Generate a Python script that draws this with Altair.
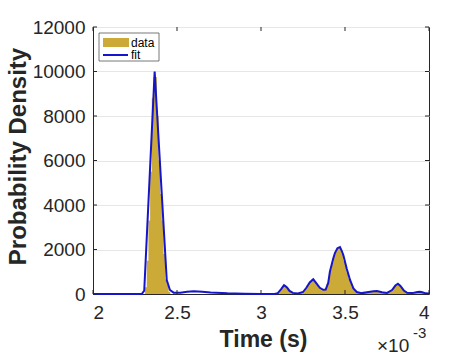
import altair as alt
import pandas as pd

# ---------------- data (time in units of 1e-3 s) ----------------
# histogram bins of width 0.01 (left edges) - first cluster
bin_left_a = [2.31, 2.32, 2.33, 2.34, 2.35, 2.36, 2.37, 2.38, 2.39, 2.40,
              2.41, 2.42, 2.43, 2.44, 2.45]
count_a = [300, 1500, 3300, 5500, 8800, 9750, 9750, 8000, 6000, 4500,
           3300, 1800, 650, 400, 100]

# second cluster, bins 3.09 ... 3.99
bin_left_b = [3.09, 3.10, 3.11, 3.12, 3.13, 3.14, 3.15, 3.16, 3.17, 3.18,
              3.19, 3.20, 3.21, 3.22, 3.23, 3.24, 3.25, 3.26, 3.27, 3.28,
              3.29, 3.30, 3.31, 3.32, 3.33, 3.34, 3.35, 3.36, 3.37, 3.38,
              3.39, 3.40, 3.41, 3.42, 3.43, 3.44, 3.45, 3.46, 3.47, 3.48,
              3.49, 3.50, 3.51, 3.52, 3.53, 3.54, 3.55, 3.56, 3.57, 3.58,
              3.59, 3.60, 3.61, 3.62, 3.63, 3.64, 3.65, 3.66, 3.67, 3.68,
              3.69, 3.70, 3.71, 3.72, 3.73, 3.74, 3.75, 3.76, 3.77, 3.78,
              3.79, 3.80, 3.81, 3.82, 3.83, 3.84, 3.85, 3.86, 3.87, 3.88,
              3.89, 3.90, 3.91, 3.92, 3.93, 3.94, 3.95, 3.96, 3.97, 3.98,
              3.99]
count_b = [0, 40, 120, 250, 380, 400, 300, 180, 100, 50,
           30, 20, 20, 30, 50, 80, 130, 220, 350, 480,
           600, 660, 640, 540, 400, 290, 210, 170, 180, 250,
           450, 750, 1100, 1400, 1700, 1900, 2050, 2100, 2000, 1800,
           1500, 1250, 950, 700, 480, 300, 180, 100, 60, 40,
           30, 30, 40, 50, 70, 90, 110, 120, 130, 130,
           120, 100, 70, 50, 40, 40, 50, 80, 140, 230,
           330, 420, 460, 420, 320, 200, 110, 60, 40, 35,
           40, 50, 70, 90, 100, 100, 90, 70, 50, 30,
           20]

# fitted density curve
fit_t = [2.00, 2.29, 2.305, 2.367, 2.439, 2.458, 2.48, 2.52, 2.56, 2.60,
         2.65, 2.70, 2.80, 2.90, 3.00, 3.08, 3.10, 3.12, 3.137, 3.155,
         3.17, 3.19, 3.22, 3.25, 3.27, 3.29, 3.311, 3.33, 3.35, 3.37,
         3.385, 3.40, 3.41, 3.43, 3.44, 3.455, 3.47, 3.48, 3.49, 3.51,
         3.53, 3.55, 3.57, 3.60, 3.64, 3.67, 3.69, 3.72, 3.75, 3.78,
         3.80, 3.815, 3.83, 3.85, 3.87, 3.90, 3.93, 3.945, 3.96, 3.98,
         4.00]
fit_v = [0, 0, 150, 10000, 630, 180, 60, 60, 100, 120,
         100, 70, 30, 10, 0, 5, 40, 220, 400, 290,
         140, 50, 25, 90, 280, 520, 660, 480, 280, 190,
         200, 500, 1000, 1600, 1840, 2060, 2110, 1950, 1750, 1150,
         630, 250, 90, 40, 90, 125, 130, 80, 50, 180,
         380, 460, 360, 160, 50, 40, 90, 100, 80, 30,
         20]

y_ticks = [0, 2000, 4000, 6000, 8000, 10000, 12000]
x_ticks = [2, 2.5, 3, 3.5, 4]

# ---------------- tables ----------------
hist_t = [2.0, 2.30] + bin_left_a + [2.46, 3.08] + bin_left_b + [4.0]
hist_v = [0, 0] + count_a + [0, 0] + count_b + [0]
hist = pd.DataFrame({"t": hist_t, "v": hist_v})
fit = pd.DataFrame({"t": fit_t, "v": fit_v})
yt = pd.DataFrame({"v": y_ticks})
xt = pd.DataFrame({"t": x_ticks})
one = pd.DataFrame({"a": [0]})

FONT = "Liberation Sans"
DARK = "#262626"
GOLD = "#CBAA37"
BLUE = "#1515cc"

xs = alt.Scale(domain=[2, 4], nice=False, zero=False)
ys = alt.Scale(domain=[0, 12000], nice=False)

x_axis = alt.Axis(
    values=x_ticks, format=".1~f", title="Time (s)", grid=False,
    tickSize=0, labelPadding=9, labelFontSize=19, labelFont=FONT,
    labelColor=DARK, domainColor=DARK, titleFont=FONT, titleFontSize=23,
    titleFontWeight="bold", titleColor=DARK, titleX=170, titleY=52,
    titleBaseline="alphabetic", titleAlign="center")
y_axis = alt.Axis(
    values=y_ticks, format="d", title="Probability Density", grid=True,
    gridColor="#e6e6e6", tickSize=0, labelPadding=8, labelFontSize=19,
    labelFont=FONT, labelColor=DARK, domainColor=DARK, titleFont=FONT,
    titleFontSize=24, titleFontWeight="bold", titleColor=DARK,
    titleX=-68, titleY=129, titleBaseline="alphabetic",
    titleAlign="center")

X = lambda: alt.X("t:Q", scale=xs, axis=x_axis)
Y = lambda: alt.Y("v:Q", scale=ys, axis=y_axis)

area = alt.Chart(hist).mark_area(interpolate="step-after", color=GOLD).encode(
    x=X(), y=Y())

line = alt.Chart(fit).mark_line(color=BLUE, strokeWidth=2).encode(
    x=X(), y=Y())

tick_style = dict(color=DARK, strokeWidth=1)
ytick_l = alt.Chart(yt).mark_rule(**tick_style).encode(
    y=Y(), x=alt.value(0), x2=alt.value(4))
ytick_r = alt.Chart(yt).mark_rule(**tick_style).encode(
    y=Y(), x=alt.value(332), x2=alt.value(336))
xtick_b = alt.Chart(xt).mark_rule(**tick_style).encode(
    x=X(), y=alt.value(267), y2=alt.value(263))
xtick_t = alt.Chart(xt).mark_rule(**tick_style).encode(
    x=X(), y=alt.value(0), y2=alt.value(4))

# legend
leg_box = alt.Chart(one).mark_rect(fill="white", stroke="#555555", strokeWidth=0.8).encode(
    x=alt.value(6), x2=alt.value(66), y=alt.value(6), y2=alt.value(34))
leg_patch = alt.Chart(one).mark_rect(color=GOLD).encode(
    x=alt.value(10), x2=alt.value(36), y=alt.value(11), y2=alt.value(20))
leg_line = alt.Chart(one).mark_rule(color=BLUE, strokeWidth=2).encode(
    x=alt.value(10), x2=alt.value(35), y=alt.value(28))
leg_t1 = alt.Chart(one).mark_text(text="data", font=FONT, fontSize=12, color="black",
                                  align="left", baseline="middle").encode(
    x=alt.value(38), y=alt.value(15.5))
leg_t2 = alt.Chart(one).mark_text(text="fit", font=FONT, fontSize=12, color="black",
                                  align="left", baseline="middle").encode(
    x=alt.value(38), y=alt.value(28))

# exponent annotation
exp1 = alt.Chart(one).mark_text(text="×10", font=FONT, fontSize=19, color=DARK,
                                align="left", baseline="alphabetic").encode(
    x=alt.value(284), y=alt.value(325))
exp2 = alt.Chart(one).mark_text(text="-3", font=FONT, fontSize=15, color=DARK,
                                align="left", baseline="alphabetic").encode(
    x=alt.value(320), y=alt.value(311))

chart = alt.layer(
    area, line, ytick_l, ytick_r, xtick_b, xtick_t,
    leg_box, leg_patch, leg_line, leg_t1, leg_t2, exp1, exp2
).properties(
    width=336, height=267,
    padding={"left": 93, "top": 27, "right": 45, "bottom": 61},
    autosize=alt.AutoSizeParams(type="none"),
    background="white",
).configure_view(stroke=DARK, strokeWidth=1)

chart.save("out.html", embed_options={"renderer": "svg", "actions": False})
